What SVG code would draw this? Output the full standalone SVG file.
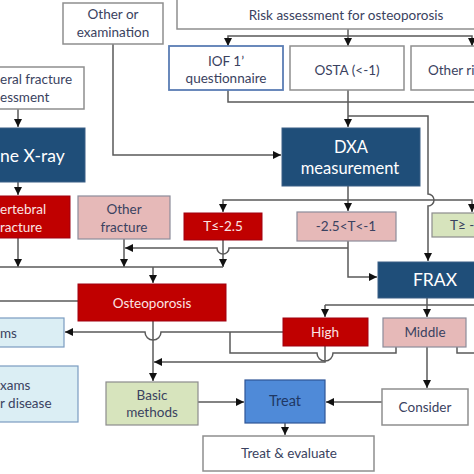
<svg xmlns="http://www.w3.org/2000/svg" width="474" height="474" viewBox="0 0 474 474">
<style>
text{font-family:Lato,"Open Sans","Liberation Sans",sans-serif;font-size:13.5px;fill:#3A4260}
.c{text-anchor:middle}
.w{fill:#ffffff}
.lw{fill:#FBE4E4}
.big{font-size:16.5px}
.wb{fill:#ffffff;stroke:#8E8E8E;stroke-width:1.5}
.ib{fill:#ffffff;stroke:#5A7DB4;stroke-width:1.8}
.db{fill:#1F4E79;stroke:#3A5F86;stroke-width:1}
.rb{fill:#C00000;stroke:#A00010;stroke-width:1}
.pb{fill:#E6B9B8;stroke:#8C8C9A;stroke-width:1.2}
.gb{fill:#D7E4BD;stroke:#8C8C8C;stroke-width:1.2}
.lb{fill:#DBEEF4;stroke:#7A9CC0;stroke-width:1.2}
.tb{fill:#4F8AD8;stroke:#2F5597;stroke-width:1.2}
#edges path{fill:none;stroke:#5A5A5A;stroke-width:1.5}
</style>
<defs>
<marker id="ar" markerUnits="userSpaceOnUse" markerWidth="9" markerHeight="9" refX="8" refY="4.5" orient="auto">
<path d="M0,0.5 L8,4.5 L0,8.5 Z" fill="#111"/>
</marker>
</defs>
<rect width="474" height="474" fill="#ffffff"/>
<g id="edges">
<path d="M113,44 V155 H281" marker-end="url(#ar)"/>
<path d="M348,29 V46" marker-end="url(#ar)"/>
<path d="M348,36 H228 V46" marker-end="url(#ar)"/>
<path d="M348,36 H472 V46" marker-end="url(#ar)"/>
<path d="M228,90 V102 H474"/>
<path d="M348,90 V127" marker-end="url(#ar)"/>
<path d="M348,116 H428 V194 A6,6 0 0 1 428,206 V261" marker-end="url(#ar)"/>
<path d="M348,186 V211" marker-end="url(#ar)"/>
<path d="M348,200 H223 V212" marker-end="url(#ar)"/>
<path d="M348,200 H472 V212" marker-end="url(#ar)"/>
<path d="M18,109 V127" marker-end="url(#ar)"/>
<path d="M18,182 V195" marker-end="url(#ar)"/>
<path d="M18,238 V267" marker-end="url(#ar)"/>
<path d="M124,239 V267" marker-end="url(#ar)"/>
<path d="M223,240 V267" marker-end="url(#ar)"/>
<path d="M0,267 H223"/>
<path d="M153,267 V283" marker-end="url(#ar)"/>
<path d="M348,241 V277 H377" marker-end="url(#ar)"/>
<path d="M348,248 H229 A6,6 0 0 1 217,248 H125" marker-end="url(#ar)"/>
<path d="M427,298 V317" marker-end="url(#ar)"/>
<path d="M325,305 H474"/>
<path d="M325,305 V317" marker-end="url(#ar)"/>
<path d="M0,301 H78"/>
<path d="M283,332 H161 A8,8 0 0 1 145,332 H65" marker-end="url(#ar)"/>
<path d="M396,347 V353 H333 A8,8 0 0 1 317,353 H230 V332"/>
<path d="M325,346 V362 H154" marker-end="url(#ar)"/>
<path d="M457,347 V353 H474"/>
<path d="M153,321 V381" marker-end="url(#ar)"/>
<path d="M198,402 H244" marker-end="url(#ar)"/>
<path d="M382,402 H326" marker-end="url(#ar)"/>
<path d="M427,347 V388" marker-end="url(#ar)"/>
<path d="M285,423 V435" marker-end="url(#ar)"/>
</g>
<g id="other_exam"><rect class="wb" x="63" y="3" width="100" height="41"/><text class="c" x="113" y="19">Other or</text><text class="c" x="113" y="37">examination</text></g>
<g id="risk"><rect class="wb" x="177" y="-2" width="310" height="31"/><text class="c" x="346" y="20">Risk assessment for osteoporosis</text></g>
<g id="iof"><rect class="ib" x="169" y="46" width="114" height="44"/><text class="c" x="226" y="66">IOF 1’</text><text class="c" x="226" y="83">questionnaire</text></g>
<g id="osta"><rect class="wb" x="290" y="46" width="114" height="44"/><text class="c" x="347" y="75">OSTA  (&lt;-1)</text></g>
<g id="other_risk"><rect class="wb" x="411" y="46" width="80" height="44"/><text x="428" y="75">Other ri</text></g>
<g id="vfa"><rect class="wb" x="-5" y="67" width="89" height="42"/><text x="0" y="84">eral fracture</text><text x="0" y="102">essment</text></g>
<g id="spine"><rect class="db" x="-5" y="128" width="90" height="54"/><text class="w" x="0" y="162" style="font-size:17.5px">ne X-ray</text></g>
<g id="dxa"><rect class="db" x="282" y="128" width="138" height="58"/><text class="c w big" x="351" y="153">DXA</text><text class="c w big" x="350" y="174">measurement</text></g>
<g id="vf"><rect class="rb" x="-5" y="196" width="75" height="42"/><text class="lw" x="0" y="214">ertebral</text><text class="lw" x="0" y="232">racture</text></g>
<g id="other_fx"><rect class="pb" x="78" y="196" width="92" height="43"/><text class="c" x="124" y="214">Other</text><text class="c" x="124" y="232">fracture</text></g>
<g id="t_low"><rect class="rb" x="184" y="213" width="78" height="27"/><text class="c lw" x="223" y="231">T≤-2.5</text></g>
<g id="t_mid"><rect class="pb" x="297" y="212" width="99" height="29"/><text class="c" x="346" y="231">-2.5&lt;T&lt;-1</text></g>
<g id="t_high"><rect class="gb" x="432" y="213" width="60" height="24"/><text x="450" y="230">T≥ -</text></g>
<g id="osteo"><rect class="rb" x="78" y="284" width="148" height="37"/><text class="c lw" x="152" y="308">Osteoporosis</text></g>
<g id="frax"><rect class="db" x="378" y="262" width="110" height="36"/><text class="c w" x="435" y="286" style="font-size:17.5px">FRAX</text></g>
<g id="exams"><rect class="lb" x="-5" y="318" width="69" height="29"/><text x="0" y="338">ms</text></g>
<g id="high"><rect class="rb" x="283" y="318" width="85" height="28"/><text class="c lw" x="325" y="337">High</text></g>
<g id="middle"><rect class="pb" x="383" y="318" width="83" height="29"/><text class="c" x="425" y="337">Middle</text></g>
<g id="exams_disease"><rect class="lb" x="-5" y="366" width="83" height="56"/><text x="0" y="390">xams</text><text x="0" y="408">r disease</text></g>
<g id="basic"><rect class="gb" x="106" y="382" width="92" height="43"/><text class="c" x="152" y="400">Basic</text><text class="c" x="152" y="417">methods</text></g>
<g id="treat"><rect class="tb" x="245" y="380" width="80" height="43"/><text class="c" x="285" y="406" style="fill:#1F3864;font-size:14.5px">Treat</text></g>
<g id="consider"><rect class="wb" x="382" y="389" width="86" height="36"/><text class="c" x="425" y="412">Consider</text></g>
<g id="treat_eval"><rect class="wb" x="203" y="436" width="171" height="35"/><text class="c" x="289" y="458">Treat &amp; evaluate</text></g>
</svg>
